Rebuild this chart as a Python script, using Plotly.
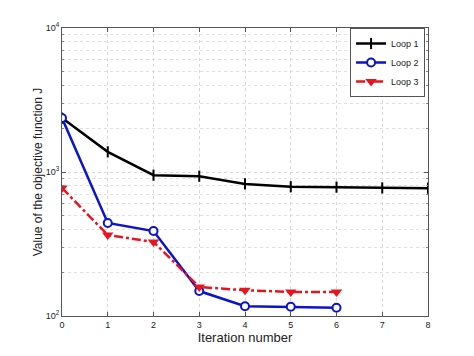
import plotly.graph_objects as go

iterations_1 = [0, 1, 2, 3, 4, 5, 6, 7, 8]
loop1 = [2370, 1380, 950, 935, 826, 790, 785, 775, 772]
iterations_2 = [0, 1, 2, 3, 4, 5, 6]
loop2 = [2370, 443, 389, 149, 117, 116, 114]
iterations_3 = [0, 1, 2, 3, 4, 5, 6]
loop3 = [774, 365, 327, 159, 151, 147, 147]

x_ticks = [0, 1, 2, 3, 4, 5, 6, 7, 8]
y_tickvals = [100, 1000, 10000]
y_ticktext = ["10<sup>2</sup>", "10<sup>3</sup>", "10<sup>4</sup>"]
y_minor = [m * 10 ** e for e in (2, 3) for m in range(2, 10)]

fig = go.Figure()
fig.add_trace(go.Scatter(x=iterations_1, y=loop1, name="Loop 1", mode="lines+markers",
                         line=dict(color="black", width=2.5),
                         marker=dict(symbol="line-ns", size=8, line=dict(color="black", width=2))))
fig.add_trace(go.Scatter(x=iterations_2, y=loop2, name="Loop 2", mode="lines+markers",
                         line=dict(color="#0a14c8", width=2.5),
                         marker=dict(symbol="circle", size=8, color="white",
                                     line=dict(color="#0a14c8", width=2))))
fig.add_trace(go.Scatter(x=iterations_3, y=loop3, name="Loop 3", mode="lines+markers",
                         line=dict(color="#e8141e", width=2.5, dash="dashdot"),
                         marker=dict(symbol="triangle-down", size=10, color="#e8141e")))

axis_common = dict(showline=True, linecolor="#555", linewidth=1, mirror="ticks",
                   ticks="inside", ticklen=4, tickcolor="#555", automargin=False,
                   gridcolor="#d8d8d8", griddash="dot", gridwidth=1, zeroline=False,
                   tickfont=dict(size=9, color="#222"))

fig.update_xaxes(range=[0, 8], tickvals=x_ticks,
                 title=dict(text="Iteration number", font=dict(size=13, color="#222"), standoff=2),
                 **axis_common)
fig.update_yaxes(type="log", range=[2, 4], tickvals=y_tickvals, ticktext=y_ticktext,
                 title=dict(text="Value of the objective function J", font=dict(size=12, color="#222"), standoff=0),
                 minor=dict(tickvals=y_minor, showgrid=True, gridcolor="#e0e0e0", griddash="dot",
                            ticks="inside", ticklen=2, tickcolor="#888"),
                 **axis_common)

# page body adds an 8px offset, so margins are shifted accordingly
fig.update_layout(width=474, height=356, margin=dict(l=54, r=54, t=20, b=48),
                  plot_bgcolor="white", paper_bgcolor="white",
                  font=dict(family="Liberation Sans, Arial, sans-serif", color="#222"),
                  legend=dict(x=0.992, y=1.0, xanchor="right", yanchor="top",
                              bgcolor="white", bordercolor="#555", borderwidth=1,
                              font=dict(size=9), tracegroupgap=0, itemwidth=30,
                              traceorder="normal"),
                  showlegend=True)

fig.write_html("out.html")
